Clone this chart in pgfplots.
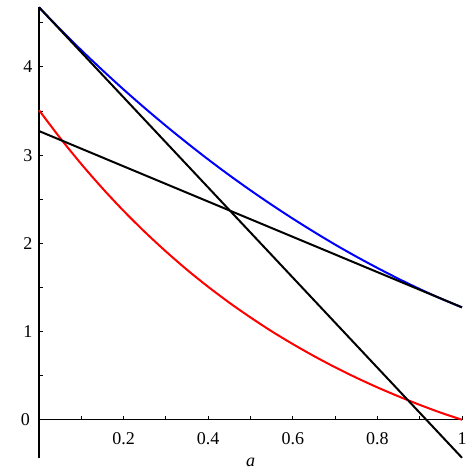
\documentclass[border=0pt]{standalone}
\usepackage{fontspec}
\setmainfont{Liberation Serif}
\usepackage{pgfplots}
\pgfplotsset{compat=1.18}
\begin{document}
\begin{tikzpicture}
\begin{axis}[
  at={(0,0)}, anchor=south west,
  scale only axis,
  width=423pt, height=451pt,
  xmin=0, xmax=1,
  ymin=-0.437, ymax=4.676,
  axis lines=middle,
  axis line style={-, line width=1.1pt},
  xtick={0.2,0.4,0.6,0.8,1},
  xticklabels={0.2,0.4,0.6,0.8,1},
  minor xtick={0.1,0.3,0.5,0.7,0.9},
  ytick={0,1,2,3,4},
  yticklabels={0,1,2,3,4},
  minor ytick={0.5,1.5,2.5,3.5,4.5},
  tick align=inside,
  major tick length=4pt, minor tick length=4pt,
  tick style={black, line width=1pt},
  /pgf/number format/assume math mode=true,
  tick label style={font=\fontsize{18}{21}\selectfont},
  xticklabel style={yshift=-9pt},
  yticklabel style={xshift=-3pt},
  xlabel={\textit{a}},
  xlabel style={at={(axis description cs:0.5,0)}, anchor=center, yshift=-4pt,
    font=\fontsize{18}{21}\selectfont},
  clip=false,
]
% red curve
\addplot[color=red, line width=2pt, smooth] coordinates {
(0,3.51)(0.05,3.194)(0.1,2.899)(0.15,2.624)(0.2,2.368)(0.25,2.130)(0.3,1.908)
(0.35,1.700)(0.4,1.507)(0.45,1.327)(0.5,1.160)(0.55,1.003)(0.6,0.858)(0.65,0.722)
(0.7,0.595)(0.75,0.477)(0.8,0.367)(0.85,0.265)(0.9,0.169)(0.95,0.080)(1,0)
};
% blue curve
\addplot[color=blue, line width=2pt, smooth] coordinates {
(0,4.676)(0.05,4.428)(0.1,4.190)(0.15,3.963)(0.2,3.744)(0.25,3.534)(0.3,3.332)
(0.35,3.138)(0.4,2.951)(0.45,2.772)(0.5,2.601)(0.55,2.437)(0.6,2.280)(0.65,2.130)
(0.7,1.986)(0.75,1.850)(0.8,1.721)(0.85,1.598)(0.9,1.482)(0.95,1.374)(1,1.274)
};
% black lines
\addplot[color=black, line width=2pt] coordinates {(0,4.676)(1,-0.431)};
\addplot[color=black, line width=2pt] coordinates {(0,3.273)(1,1.274)};
\node[anchor=east, font=\fontsize{18}{21}\selectfont, inner sep=0pt]
  at (axis cs:0,0) [xshift=-9pt] {0};
\end{axis}
\pgfresetboundingbox
\path[use as bounding box] (-39pt,-15.7pt) rectangle (435pt,458.3pt);
\end{tikzpicture}
\end{document}
